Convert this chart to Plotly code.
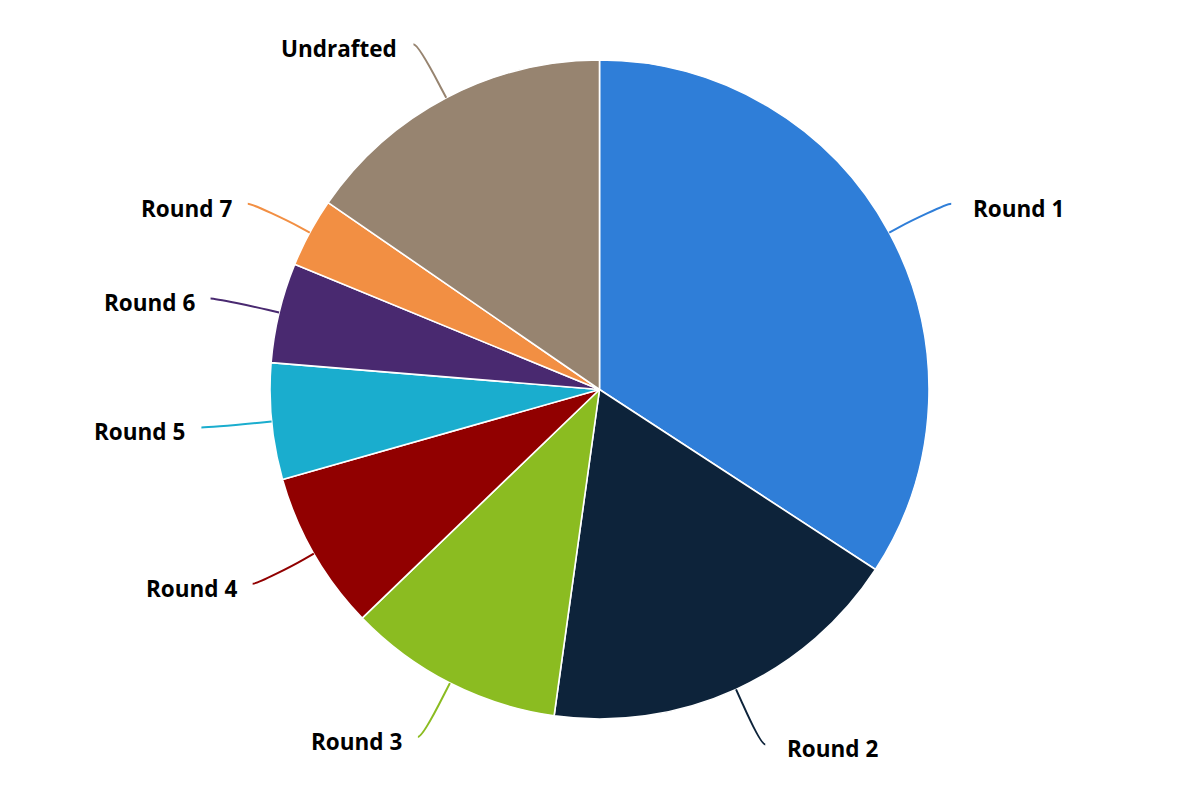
import math
import plotly.graph_objects as go

labels = ["Round 1", "Round 2", "Round 3", "Round 4", "Round 5", "Round 6", "Round 7", "Undrafted"]
values = [34.2, 18.0, 10.6, 7.8, 5.7, 4.9, 3.4, 15.4]
colors = ["#2f7ed8", "#0d233a", "#8bbc21", "#910000", "#1aadce", "#492970", "#f28f43", "#978470"]

W, H = 1200, 800
OFF = 8  # page body margin
CX, CY = 599.5 - OFF, 389.5 - OFF
R = 329.5
RX_END, RY_END = 400, 390
FONT = "Open Sans, Noto Sans, DejaVu Sans, sans-serif"

fig = go.Figure(go.Pie(
    labels=labels, values=values, sort=False, direction="clockwise", rotation=0,
    marker=dict(colors=colors, line=dict(color="white", width=1.6)),
    textinfo="none", hoverinfo="label+percent", showlegend=False,
    domain=dict(x=[(CX - R) / W, (CX + R) / W], y=[1 - (CY + R) / H, 1 - (CY - R) / H]),
))

def px(x):
    return x / W

def py(y):
    return 1 - y / H

shapes, annos = [], []
total = sum(values)
cum = 0.0
for lab, v, c in zip(labels, values, colors):
    th = math.radians((cum + v / 2) / total * 360)
    cum += v
    s, co = math.sin(th), -math.cos(th)
    right = s >= 0
    touch = (CX + R * s, CY + R * co)
    brk = (CX + (R + 12) * s, CY + (R + 12) * co)
    end = (CX + RX_END * s, CY + RY_END * co)
    c1 = (end[0] + (-5 if right else 5), end[1])
    c2 = (2 * brk[0] - touch[0], 2 * brk[1] - touch[1])
    path = (f"M {px(end[0])},{py(end[1])} C {px(c1[0])},{py(c1[1])} "
            f"{px(c2[0])},{py(c2[1])} {px(brk[0])},{py(brk[1])} "
            f"L {px(touch[0])},{py(touch[1])}")
    shapes.append(dict(type="path", path=path, xref="paper", yref="paper",
                       line=dict(color=c, width=2)))
    tx = end[0] + (19.5 if right else -14)
    annos.append(dict(text=f"<b>{lab}</b>", x=px(tx), y=py(end[1] + 4.5), xref="paper", yref="paper",
                      xanchor="left" if right else "right", yanchor="middle", showarrow=False,
                      font=dict(family=FONT, size=22.5, color="#000000")))

fig.update_layout(width=W, height=H, margin=dict(l=0, r=0, t=0, b=0),
                  paper_bgcolor="white", plot_bgcolor="white",
                  shapes=shapes, annotations=annos)
fig.write_html("out.html")
